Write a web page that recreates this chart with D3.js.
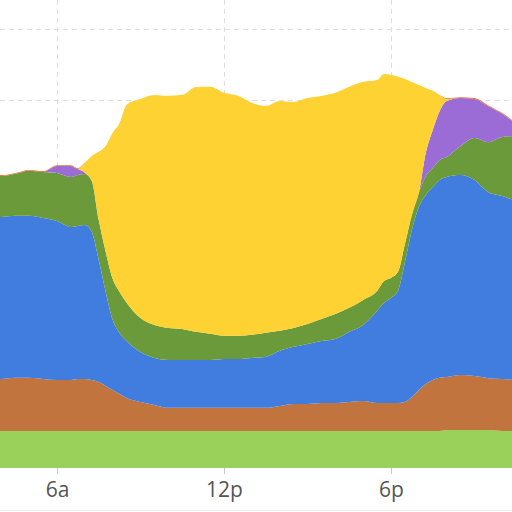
<!DOCTYPE html>
<html>
<head>
<meta charset="utf-8">
<script src="https://cdn.jsdelivr.net/npm/d3@7"></script>
<style>
html, body { margin: 0; padding: 0; background: #fff; overflow: hidden; }
.axis text { font-family: "Open Sans", "Noto Sans", sans-serif; font-size: 21px; fill: #555; }
.axis line { stroke: #c8c8c8; }
</style>
</head>
<body>
<svg id="chart" width="512" height="512"></svg>
<script>

// Hour of day for each sample (finer around the ramps)
var hours = [3.5, 4, 4.5, 5, 5.5, 6, 6.5, 6.75, 7, 7.25, 7.5, 7.75, 8, 8.25, 8.5,
    9, 9.5, 10, 10.5, 11, 11.5, 12, 12.5, 13, 13.5, 14, 14.5, 15, 15.5, 16, 16.5, 17, 17.5,
    17.75, 18, 18.25, 18.5, 18.75, 19, 19.25, 19.5, 19.75, 20, 20.5, 21, 21.5, 22, 22.5];

// Generation by source, GW
var nuclear = [2.62, 2.62, 2.62, 2.62, 2.62, 2.62, 2.62, 2.62, 2.62, 2.62, 2.62, 2.62, 2.62, 2.62, 2.62,
    2.62, 2.62, 2.62, 2.62, 2.62, 2.62, 2.62, 2.62, 2.62, 2.62, 2.62, 2.62, 2.62, 2.62, 2.62, 2.62, 2.62, 2.62,
    2.62, 2.62, 2.62, 2.62, 2.62, 2.62, 2.62, 2.62, 2.62, 2.68, 2.68, 2.68, 2.68, 2.62, 2.62];

var imports = [3.67, 3.67, 3.75, 3.75, 3.67, 3.60, 3.60, 3.67, 3.67, 3.60, 3.46, 3.18, 2.90, 2.61, 2.33,
    2.05, 1.84, 1.63, 1.63, 1.63, 1.63, 1.63, 1.63, 1.63, 1.63, 1.77, 1.91, 1.91, 1.98, 1.98, 2.05, 2.12, 1.98,
    1.98, 1.98, 1.98, 2.05, 2.40, 2.90, 3.32, 3.60, 3.75, 3.75, 3.89, 3.82, 3.67, 3.67, 3.60];

var gas = [11.45, 11.45, 11.45, 11.45, 11.38, 11.24, 10.81, 10.81, 10.88, 10.46, 8.62, 6.64, 4.95, 4.31, 4.03,
    3.53, 3.32, 3.39, 3.39, 3.39, 3.39, 3.46, 3.46, 3.53, 3.60, 3.89, 4.03, 4.24, 4.38, 4.52, 4.95, 5.37, 6.50,
    7.07, 7.42, 7.92, 9.89, 11.80, 12.93, 13.36, 13.64, 13.99, 14.13, 14.13, 13.85, 13.14, 12.93, 12.65];

var wind = [2.90, 2.90, 2.97, 3.18, 3.25, 3.39, 3.53, 3.60, 3.60, 3.60, 2.83, 2.83, 2.90, 2.90, 2.69,
    2.40, 2.33, 2.26, 2.19, 1.98, 1.84, 1.63, 1.63, 1.63, 1.70, 1.41, 1.34, 1.41, 1.55, 1.77, 1.70, 1.77, 1.41,
    1.55, 1.41, 1.34, 1.27, 1.06, 0.99, 1.34, 1.34, 1.41, 1.41, 2.05, 2.97, 3.53, 4.17, 4.59];

var batteries = [0, 0, 0, 0, 0, 0.49, 0.78, 0.42, 0.10, 0, 0, 0, 0, 0, 0,
    0, 0, 0, 0, 0, 0, 0, 0, 0, 0, 0, 0, 0, 0, 0, 0, 0, 0,
    0, 0, 0, 0, 0, 0, 1.63, 2.69, 3.46, 3.96, 3.39, 2.76, 2.54, 1.63, 0.85];

var solar = [0, 0, 0, 0, 0, 0, 0, 0, 0.71, 1.77, 4.81, 7.49, 10.32, 11.94, 13.99,
    15.48, 16.25, 16.40, 16.54, 17.31, 17.46, 17.17, 16.96, 16.40, 16.04, 16.25, 15.97, 15.97, 15.76, 15.62, 15.62, 15.41, 14.91,
    14.63, 14.35, 13.78, 11.66, 9.40, 7.63, 4.59, 2.76, 1.13, 0.14, 0, 0, 0, 0, 0];

var other = [0.06, 0.06, 0.06, 0.06, 0.06, 0.06, 0.06, 0.06, 0, 0, 0, 0, 0, 0, 0,
    0, 0, 0, 0, 0, 0, 0, 0, 0, 0, 0, 0, 0, 0, 0, 0, 0, 0,
    0, 0, 0, 0, 0, 0, 0, 0, 0, 0.06, 0.06, 0.06, 0.06, 0.06, 0.06];

var tickHours = [6, 12, 18];
var tickLabels = ["6a", "12p", "6p"];
var gridValues = [26, 31];

var keys = ["nuclear", "imports", "gas", "wind", "batteries", "solar", "other"];
var colors = ["#99d15b", "#c1743e", "#417dde", "#6a9a3a", "#9c6cd6", "#fed232", "#e8743b"];

// Build rows for the stack
var series = {nuclear: nuclear, imports: imports, gas: gas, wind: wind,
    batteries: batteries, solar: solar, other: other};
var rows = hours.map(function(h, i) {
    var r = {hour: h};
    keys.forEach(function(k) { r[k] = series[k][i]; });
    return r;
});

var svg = d3.select("#chart");

// plot spans the whole day, the window only shows part of it
var x = d3.scaleLinear()
    .domain([0, 24])
    .range([-110, 558]);

var y = d3.scaleLinear()
    .domain([0, 33])
    .range([468, 1]);

var z = d3.scaleOrdinal()
    .domain(keys)
    .range(colors);

// Dashed grid behind the areas
svg.append("g")
    .selectAll("line")
    .data(gridValues)
    .enter().append("line")
        .attr("x1", 0)
        .attr("x2", 512)
        .attr("y1", function(d) { return Math.round(y(d)) + 0.5; })
        .attr("y2", function(d) { return Math.round(y(d)) + 0.5; })
        .attr("stroke", "#dedede")
        .attr("stroke-dasharray", "5,4");

svg.append("g")
    .selectAll("line")
    .data(tickHours)
    .enter().append("line")
        .attr("x1", function(d) { return Math.round(x(d)) + 0.5; })
        .attr("x2", function(d) { return Math.round(x(d)) + 0.5; })
        .attr("y1", 0)
        .attr("y2", y(0))
        .attr("stroke", "#dedede")
        .attr("stroke-dasharray", "5,4");

var stack = d3.stack()
    .keys(keys)
    .order(d3.stackOrderNone)
    .offset(d3.stackOffsetNone);

var area = d3.area()
    .curve(d3.curveMonotoneX)
    .x(function(d) { return x(d.data.hour); })
    .y0(function(d) { return y(d[0]); })
    .y1(function(d) { return y(d[1]); });

svg.append("g")
    .selectAll("path")
    .data(stack(rows))
    .enter().append("path")
        .attr("fill", function(d) { return z(d.key); })
        .attr("d", area);

// X axis, no domain line
var axis = svg.append("g")
    .attr("class", "axis")
    .attr("transform", "translate(0," + y(0) + ")")
    .call(d3.axisBottom(x)
        .tickValues(tickHours)
        .tickFormat(function(d, i) { return tickLabels[i]; })
        .tickSize(6)
        .tickPadding(8));

axis.select(".domain").remove();

// faint frame line at the very bottom
svg.append("line")
    .attr("x1", 0)
    .attr("x2", 512)
    .attr("y1", 510.5)
    .attr("y2", 510.5)
    .attr("stroke", "#f0f0f0");

</script>
</body>
</html>
